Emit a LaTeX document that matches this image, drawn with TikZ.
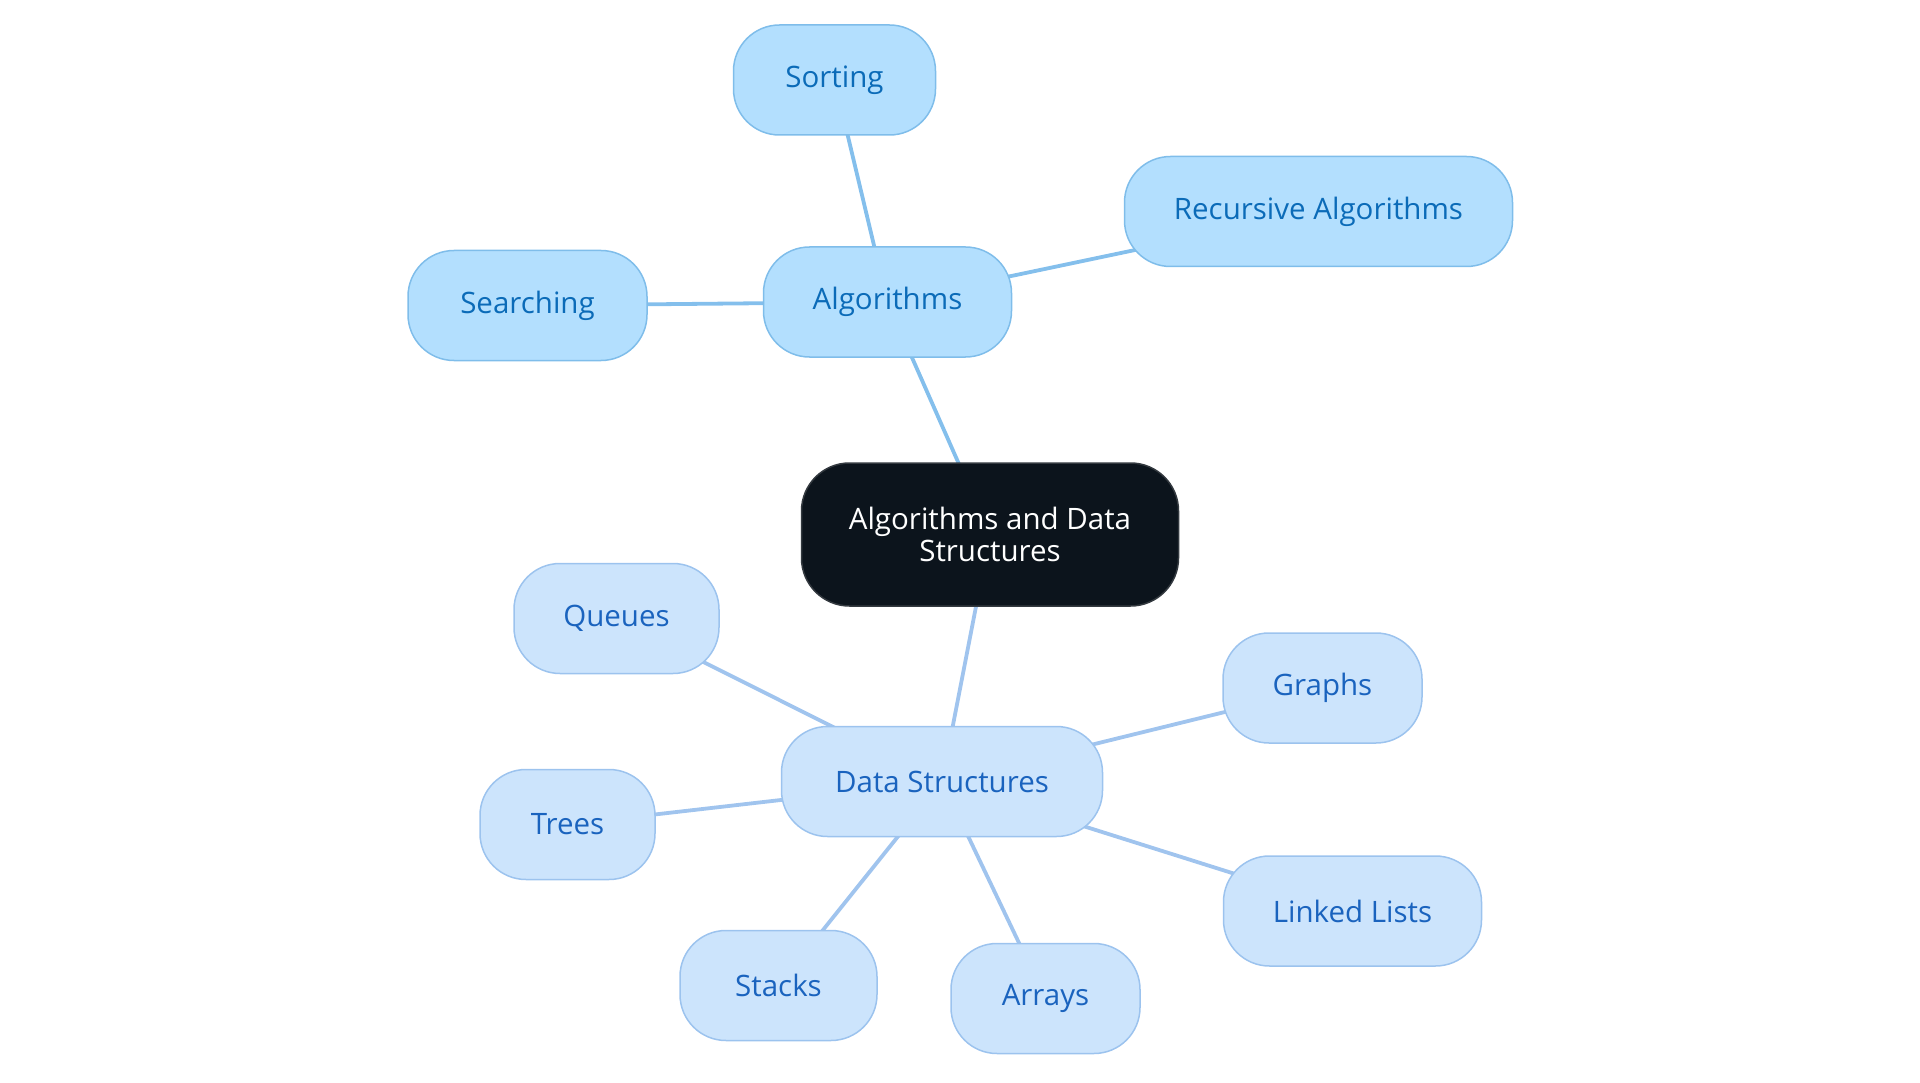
\documentclass[tikz,border=0pt]{standalone}
\usepackage{fontspec}
\setmainfont{Open Sans}
\usetikzlibrary{backgrounds}
\definecolor{algofill}{HTML}{B3DFFE}
\definecolor{algoline}{HTML}{7FBDEA}
\definecolor{algotext}{HTML}{0B6BB8}
\definecolor{dsfill}{HTML}{CCE4FC}
\definecolor{dsline}{HTML}{9CC3EE}
\definecolor{dstext}{HTML}{1A63BE}
\definecolor{algoedge}{HTML}{84BFEC}
\definecolor{dsedge}{HTML}{A0C4EE}
\definecolor{rootfill}{HTML}{0C141C}
\definecolor{rootline}{HTML}{33393F}
\tikzset{
  box/.style={rounded corners=46pt, line width=1.5pt, inner sep=0pt, align=center,
    minimum height=110pt, font=\fontsize{29.5}{32}\selectfont},
  algobox/.style={box, fill=algofill, draw=algoline, text=algotext},
  dsbox/.style={box, fill=dsfill, draw=dsline, text=dstext},
  rootbox/.style={box, fill=rootfill, draw=rootline, text=white, minimum height=143pt, rounded corners=48pt},
  algolink/.style={draw=algoedge, line width=3.8pt},
  dslink/.style={draw=dsedge, line width=3.8pt},
}
\begin{document}
\begin{tikzpicture}[x=1pt,y=-1pt]
\useasboundingbox (0,0) rectangle (1920,1083);
\node[rootbox, minimum width=377pt] (root) at (990,534.5) {Algorithms and Data\\Structures};
\node[algobox, minimum width=248pt] (alg) at (887.5,302) {Algorithms};
\node[algobox, minimum width=202pt] (sort) at (834.5,80) {Sorting};
\node[algobox, minimum width=388pt] (rec) at (1318.5,211.5) {Recursive Algorithms};
\node[algobox, minimum width=239pt] (search) at (527.5,305.5) {Searching};
\node[dsbox, minimum width=321pt] (ds) at (942,781.5) {Data Structures};
\node[dsbox, minimum width=205pt] (queues) at (616.5,618.5) {Queues};
\node[dsbox, minimum width=199pt] (graphs) at (1322.5,688) {Graphs};
\node[dsbox, minimum width=175pt] (trees) at (567.5,824.5) {Trees};
\node[dsbox, minimum width=258pt] (linked) at (1352.5,911) {Linked Lists};
\node[dsbox, minimum width=197pt] (stacks) at (778.5,985.5) {Stacks};
\node[dsbox, minimum width=189pt] (arrays) at (1045.5,998.5) {Arrays};
\begin{scope}[on background layer]
\draw[algolink] (root.center) -- (alg.center);
\draw[algolink] (alg.center) -- (sort.center);
\draw[algolink] (alg.center) -- (rec.center);
\draw[algolink] (alg.center) -- (search.center);
\draw[dslink] (root.center) -- (ds.center);
\draw[dslink] (ds.center) -- (queues.center);
\draw[dslink] (ds.center) -- (graphs.center);
\draw[dslink] (ds.center) -- (trees.center);
\draw[dslink] (ds.center) -- (linked.center);
\draw[dslink] (ds.center) -- (stacks.center);
\draw[dslink] (ds.center) -- (arrays.center);
\end{scope}
\end{tikzpicture}
\end{document}
